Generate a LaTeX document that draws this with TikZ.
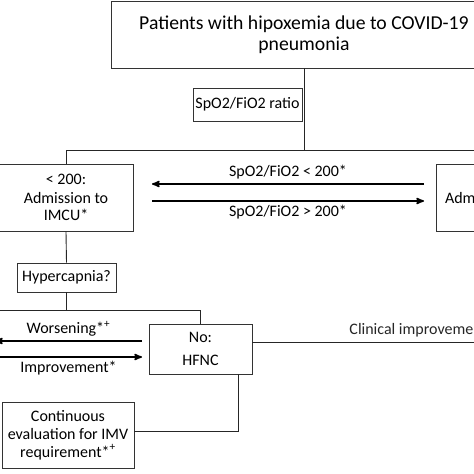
\documentclass[tikz,border=0pt]{standalone}
\usepackage{fontspec}
\setmainfont{Carlito}
\usetikzlibrary{
        arrows,
        positioning
    }
\tikzset{>=stealth',auto,node distance=2cm}
\tikzset{box/.style={draw=black!80,line width=0.9pt,rectangle,align=center,inner sep=2pt,font=\fontsize{16}{17.8}\selectfont}}
\tikzset{lbl/.style={font=\fontsize{16}{17.8}\selectfont,inner sep=1pt}}

\begin{document}
\begin{tikzpicture}[x=1pt,y=-1pt,line width=0.9pt]
                    \tikzset{flow/.style={->,line width=1.6pt,draw=black}}
                    \useasboundingbox (0,0) rectangle (474,474);
                    \clip (0,0) rectangle (474,474);

                        \node[box,minimum width=386pt,minimum height=67pt,font=\fontsize{19.7}{21.5}\selectfont] (patients) at (304,34.5) {Patients with hipoxemia due to COVID-19\\pneumonia};
                        \node[box,minimum width=109pt,minimum height=33pt] (ratio) at (247.5,104.5) {SpO2/FiO2 ratio};
                        \node[box,minimum width=134pt,minimum height=67pt] (imcu) at (66,197.5) {< 200:\\[1pt]Admission to\\IMCU*};
                        \node[box,minimum width=134pt,minimum height=67pt,text width=116pt,inner xsep=9pt,align=left] (ward) at (503,197.5) {Adm};
                        \node[box,minimum width=99pt,minimum height=29pt] (hyper) at (66.5,277.5) {Hypercapnia?};
                        \node[box,minimum width=103pt,minimum height=50pt] (hfnc) at (200.5,349) {No:\\[5pt]HFNC};
                        \node[box,minimum width=132pt,minimum height=66pt] (cont) at (68,435) {Continuous\\evaluation for IMV\\requirement*\textsuperscript{+}};

                        \coordinate (split) at (304,150);
                        \coordinate (w1) at (424,184);
                        \coordinate (i1) at (152,184);
                        \coordinate (i2) at (152,201);
                        \coordinate (w2) at (424,201);
                        \coordinate (fork) at (66.5,310);
                        \coordinate (yes) at (-5,310);
                        \coordinate (h1) at (142,341);
                        \coordinate (y1) at (-5,341);
                        \coordinate (y2) at (-5,357);
                        \coordinate (h2) at (142,357);
                        \coordinate (better) at (480,342);

                    \draw[black!85] (patients.south) -- (split);
                    \draw[black!85] (split) -| (imcu.north);
                    \draw[black!85] (split) -| (ward.north);
                    \draw[black!85] (imcu.south) -- (hyper.north);
                    \draw[black!85] (hyper.south) -- (fork);
                    \draw[black!85] (yes) -| (hfnc.north);
                    \draw[black!85] ([yshift=7pt]hfnc.east) -- node[lbl,pos=0.42,anchor=south west,yshift=3pt] {Clinical improvement} (better);
                    \draw[black!85] ([xshift=37.5pt]hfnc.south) |- ([yshift=4pt]cont.east);
                    \path[flow]
                            (w1)  edge  node[lbl,above=3pt] {SpO2/FiO2 < 200*} (i1)
                            (i2)  edge  node[lbl,below=2pt] {SpO2/FiO2 > 200*} (w2)
                            (h1)  edge  node[lbl,above=3pt] {Worsening*\textsuperscript{+}} (y1)
                            (y2)  edge  node[lbl,below=2pt] {Improvement*} (h2)
                            ;
            \end{tikzpicture}
\end{document}
